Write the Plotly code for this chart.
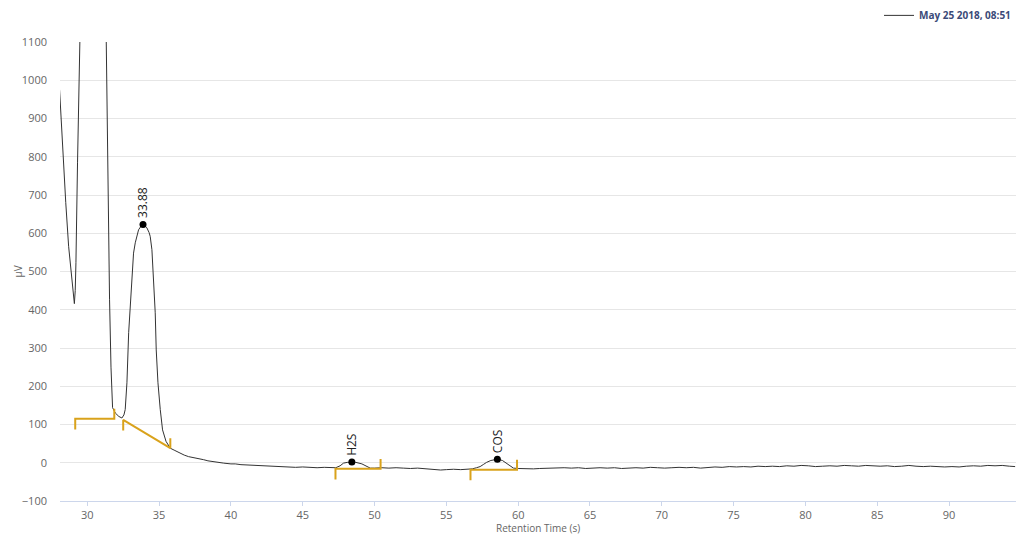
import plotly.graph_objects as go

# chromatogram trace
time_s = [
    28.07, 28.2, 28.35, 28.5, 28.7, 28.93, 29.02, 29.1, 29.16, 29.21, 29.32, 29.44,
    29.6, 30.0, 30.6, 31.1, 31.32, 31.45, 31.55, 31.65, 31.76, 31.95, 32.2, 32.41,
    32.55, 32.64, 32.76, 32.88, 33.0, 33.11, 33.22, 33.34, 33.57, 33.75, 33.88, 34.0,
    34.15, 34.3, 34.38, 34.5, 34.61, 34.73, 34.8, 34.92, 35.08, 35.24, 35.48, 35.78,
    36.1, 36.4, 36.75, 37.05, 37.4, 37.75, 38.1, 38.4, 38.7, 39.0, 39.5, 40.0,
    40.3, 40.7, 41.2, 41.7, 42.0, 42.5, 43.0, 43.5, 44.0, 44.5, 45.0, 45.5,
    46.0, 46.5, 47.0, 47.3, 47.6, 47.84, 48.1, 48.42, 48.7, 49.12, 49.4, 49.7,
    50.0, 50.5, 51.0, 51.5, 52.0, 52.5, 53.0, 53.5, 54.0, 54.6, 55.0, 55.5,
    56.0, 56.4, 56.8, 57.1, 57.35, 57.6, 57.8, 58.1, 58.55, 58.9, 59.2, 59.45,
    59.67, 60.0, 60.5, 61.06, 61.5, 62.2, 62.7, 63.2, 63.7, 64.2, 64.7, 65.2,
    65.7, 66.2, 66.7, 67.2, 67.7, 68.2, 68.7, 69.2, 69.7, 70.2, 70.7, 71.2,
    71.7, 72.2, 72.7, 73.2, 73.7, 74.2, 74.7, 75.2, 75.7, 76.2, 76.7, 77.2,
    77.7, 78.2, 78.7, 79.2, 79.7, 80.2, 80.7, 81.2, 81.7, 82.2, 82.7, 83.2,
    83.7, 84.2, 84.7, 85.2, 85.7, 86.2, 86.7, 87.2, 87.7, 88.2, 88.7, 89.2,
    89.7, 90.2, 90.7, 91.2, 91.7, 92.2, 92.7, 93.2, 93.7, 94.2, 94.6,
]
signal_uv = [
    975, 880, 784, 680, 566, 470, 430, 416, 450, 523, 784, 1098,
    1500, 2100, 2400, 1800, 1100, 700, 426, 250, 144, 130, 121, 117,
    125, 139, 209, 340, 426, 505, 548, 575, 609, 619, 623, 620,
    614, 602, 592, 557, 478, 392, 295, 209, 139, 86, 56, 38,
    32, 26, 20, 16, 14, 11, 8, 5, 3, 1, -1, -3,
    -3, -5, -6, -7, -8, -9, -10, -10, -11, -12, -11, -12,
    -13, -12, -12, -13, -8, -1, 1, 2, 1, -3, -9, -14,
    -14, -13, -14, -13, -14, -15, -14, -16, -17, -19, -18, -17,
    -18, -17, -16, -13, -10, -4, 1, 6, 9, 6, -1, -8,
    -14, -15, -16, -16, -15, -14, -15, -13, -14, -13, -15, -14,
    -13, -14, -13, -15, -14, -13, -14, -12, -13, -14, -13, -12,
    -13, -12, -14, -12, -11, -12, -10, -11, -10, -11, -9, -10,
    -9, -10, -8, -9, -7, -8, -10, -9, -8, -9, -7, -8,
    -9, -7, -8, -9, -8, -10, -9, -7, -9, -10, -9, -10,
    -11, -10, -11, -9, -8, -9, -7, -8, -7, -9, -10,
]

# labelled peaks
peak_t = [33.88, 48.42, 58.55]
peak_uv = [623, 2, 9]
peak_labels = ["33.88", "H2S", "COS"]

# integration baselines: start and end of each
base_start_t = [29.16, 32.5, 47.28, 56.68]
base_start_uv = [115, 112, -16, -18]
base_end_t = [31.88, 35.78, 50.42, 59.92]
base_end_uv = [115, 38, -16, -18]

START_TICK = 28  # uV, drawn downward
END_TICK = 26    # uV, drawn upward

x_ticks = list(range(30, 95, 5))
y_ticks = list(range(-100, 1101, 100))

fig = go.Figure()

fig.add_trace(
    go.Scatter(
        x=time_s,
        y=signal_uv,
        mode="lines",
        name="<b>May 25 2018, 08:51</b>",
        line=dict(color="#333333", width=1),
        hoverinfo="skip",
    )
)

bx, by = [], []
for t0, u0, t1, u1 in zip(base_start_t, base_start_uv, base_end_t, base_end_uv):
    bx += [t0, t0, t1, t1, None]
    by += [u0 - START_TICK, u0, u1, u1 + END_TICK, None]

fig.add_trace(
    go.Scatter(
        x=bx,
        y=by,
        mode="lines",
        line=dict(color="#D9A21B", width=2),
        showlegend=False,
        hoverinfo="skip",
    )
)

fig.add_trace(
    go.Scatter(
        x=peak_t,
        y=peak_uv,
        mode="markers",
        marker=dict(color="#000000", size=7),
        showlegend=False,
        hoverinfo="skip",
    )
)

for t, u, lab in zip(peak_t, peak_uv, peak_labels):
    fig.add_annotation(
        x=t, y=u, text=lab, showarrow=False, textangle=-90,
        yanchor="bottom", xanchor="center", yshift=4,
        font=dict(size=12, color="#222222"),
    )

# axis titles placed as annotations so they sit where the original has them
fig.add_annotation(
    xref="paper", yref="paper", x=-0.044, y=0.5, text="µV", showarrow=False,
    textangle=-90, xanchor="center", yanchor="middle",
    font=dict(size=10, color="#666666"),
)
fig.add_annotation(
    xref="paper", yref="paper", x=0.5, y=-0.059, text="Retention Time (s)",
    showarrow=False, xanchor="center", yanchor="middle",
    font=dict(size=10, color="#666666"),
)

# the page body adds an 8px offset, so the figure is sized to the window minus it
fig.update_layout(
    width=1016,
    height=535,
    margin=dict(l=52, r=8, t=34, b=42, autoexpand=False),
    paper_bgcolor="white",
    plot_bgcolor="white",
    font=dict(family="Open Sans, DejaVu Sans, sans-serif", color="#666666", size=11),
    legend=dict(
        x=1, xanchor="right", y=1.058, yanchor="middle",
        font=dict(size=10, color="#3b4a78"),
        itemwidth=30,
    ),
    xaxis=dict(
        range=[28.1, 94.66],
        tickvals=x_ticks,
        showgrid=False,
        showline=True,
        linecolor="#ccd6eb",
        ticks="outside",
        ticklen=4,
        tickcolor="#ccd6eb",
        tickfont=dict(size=11, color="#666666"),
        zeroline=False,
    ),
    yaxis=dict(
        range=[-100, 1100],
        tickvals=y_ticks,
        gridcolor="#e6e6e6",
        zeroline=False,
        showline=False,
        ticklabelstandoff=12,
        tickfont=dict(size=11, color="#666666"),
    ),
)

fig.write_html("out.html")
